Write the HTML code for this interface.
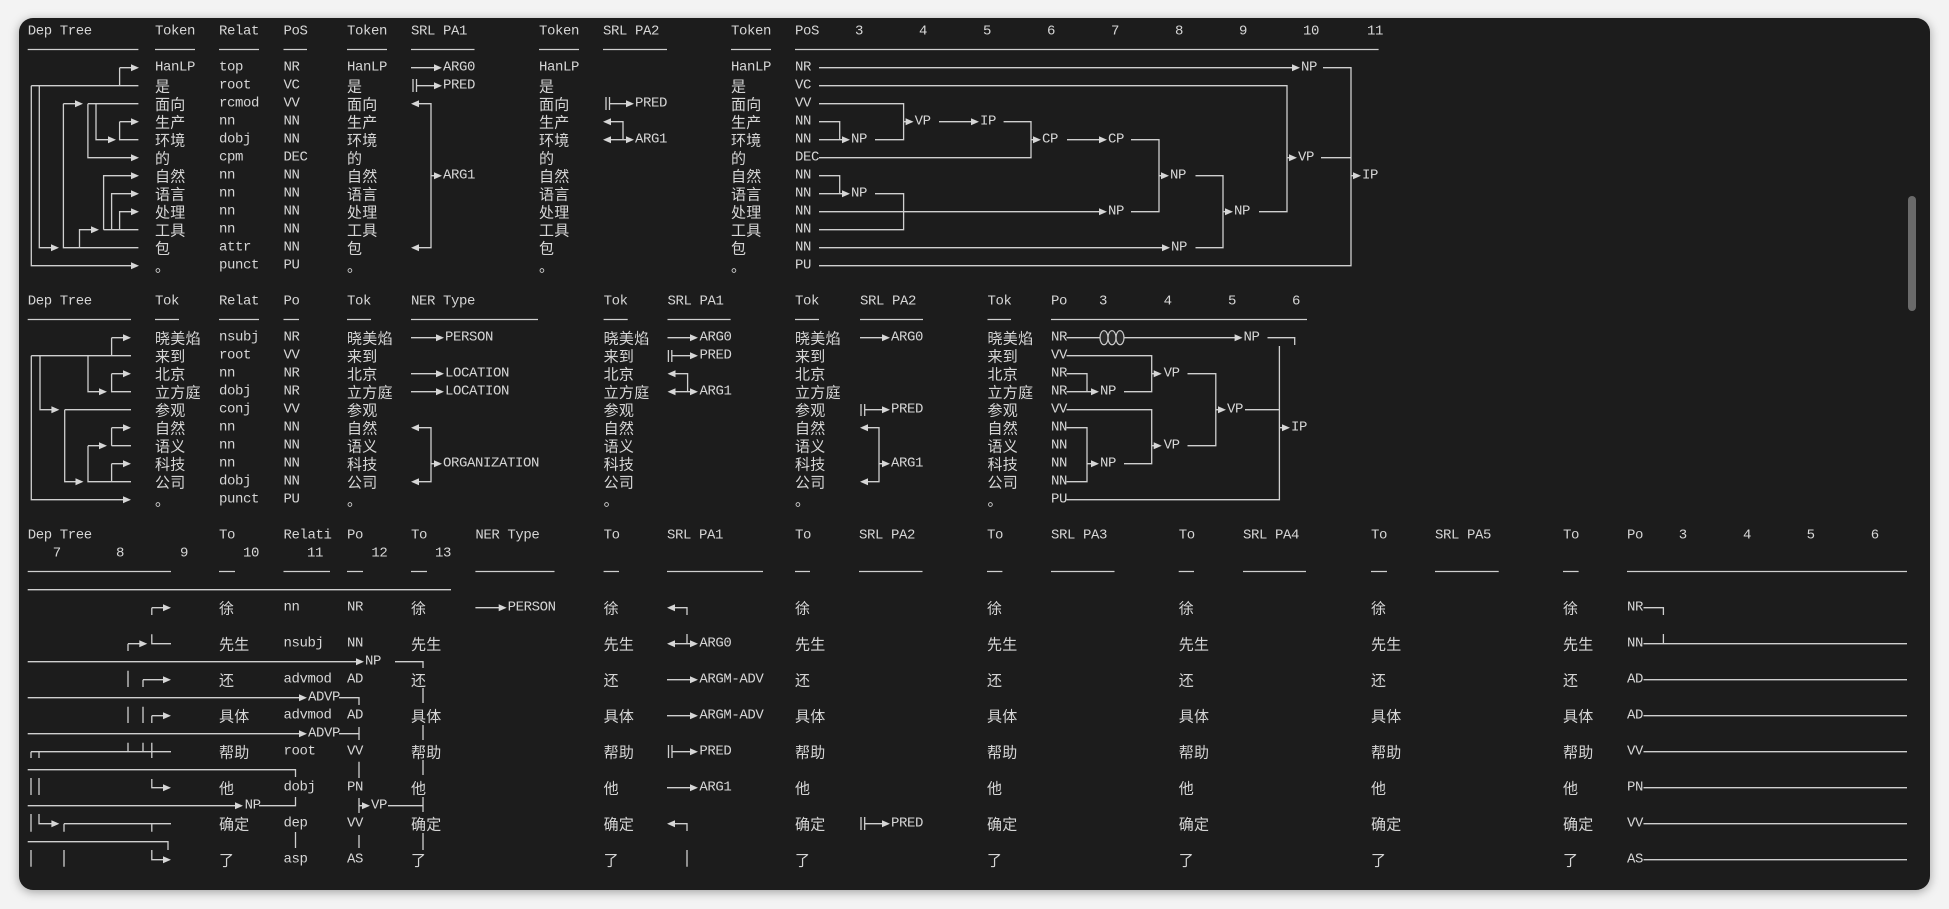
<!DOCTYPE html>
<html><head><meta charset="utf-8"><style>
html,body{margin:0;padding:0;background:#f3f3f3;}
#p{position:absolute;left:19px;top:18px;width:1911px;height:872px;background:#1c1c1c;border-radius:14px;box-shadow:0 2px 10px rgba(0,0,0,.35);}
svg{position:absolute;left:0;top:0;}
text{font-family:"Liberation Mono","Noto Sans CJK SC",monospace;font-size:14px;fill:#d6d6d6;letter-spacing:-0.4px;dominant-baseline:central;}
.c{font-family:"Noto Sans CJK SC","WenQuanYi Zen Hei",sans-serif;font-size:15px;letter-spacing:0.3px;}
.l{fill:none;stroke:#cfcfcf;stroke-width:1.3;}
.a{fill:#d6d6d6;}
</style></head><body>
<div id="p"></div>
<div style="position:absolute;left:1908px;top:196px;width:8px;height:115px;background:#6a6a6a;border-radius:4px;"></div>
<svg width="1949" height="909" viewBox="0 0 1949 909">
<!-- ===== SECTION 1 headers ===== -->
<text y="31.7"><tspan x="27.7">Dep Tree</tspan><tspan x="155">Token</tspan><tspan x="219">Relat</tspan><tspan x="283.5">PoS</tspan><tspan x="347">Token</tspan><tspan x="411">SRL PA1</tspan><tspan x="539">Token</tspan><tspan x="603">SRL PA2</tspan><tspan x="731">Token</tspan><tspan x="795">PoS</tspan><tspan x="855">3</tspan><tspan x="919">4</tspan><tspan x="983">5</tspan><tspan x="1047">6</tspan><tspan x="1111">7</tspan><tspan x="1175">8</tspan><tspan x="1239">9</tspan><tspan x="1303">10</tspan><tspan x="1367">11</tspan></text>
<path class="l" d="M27.7 49.5H138.4M155 49.5H195M219 49.5H259M283.5 49.5H307M347 49.5H387M411 49.5H474.5M539 49.5H579M603 49.5H667M731 49.5H771M795 49.5H1378.6"/>
<text><tspan x="155" y="67.7">HanLP</tspan><tspan class="c" x="155" y="85.7">是</tspan><tspan class="c" x="155" y="103.7">面向</tspan><tspan class="c" x="155" y="121.7">生产</tspan><tspan class="c" x="155" y="139.7">环境</tspan><tspan class="c" x="155" y="157.7">的</tspan><tspan class="c" x="155" y="175.7">自然</tspan><tspan class="c" x="155" y="193.7">语言</tspan><tspan class="c" x="155" y="211.7">处理</tspan><tspan class="c" x="155" y="229.7">工具</tspan><tspan class="c" x="155" y="247.7">包</tspan><tspan class="c" x="155" y="265.7">。</tspan></text>
<text><tspan x="347" y="67.7">HanLP</tspan><tspan class="c" x="347" y="85.7">是</tspan><tspan class="c" x="347" y="103.7">面向</tspan><tspan class="c" x="347" y="121.7">生产</tspan><tspan class="c" x="347" y="139.7">环境</tspan><tspan class="c" x="347" y="157.7">的</tspan><tspan class="c" x="347" y="175.7">自然</tspan><tspan class="c" x="347" y="193.7">语言</tspan><tspan class="c" x="347" y="211.7">处理</tspan><tspan class="c" x="347" y="229.7">工具</tspan><tspan class="c" x="347" y="247.7">包</tspan><tspan class="c" x="347" y="265.7">。</tspan></text>
<text><tspan x="539" y="67.7">HanLP</tspan><tspan class="c" x="539" y="85.7">是</tspan><tspan class="c" x="539" y="103.7">面向</tspan><tspan class="c" x="539" y="121.7">生产</tspan><tspan class="c" x="539" y="139.7">环境</tspan><tspan class="c" x="539" y="157.7">的</tspan><tspan class="c" x="539" y="175.7">自然</tspan><tspan class="c" x="539" y="193.7">语言</tspan><tspan class="c" x="539" y="211.7">处理</tspan><tspan class="c" x="539" y="229.7">工具</tspan><tspan class="c" x="539" y="247.7">包</tspan><tspan class="c" x="539" y="265.7">。</tspan></text>
<text><tspan x="731" y="67.7">HanLP</tspan><tspan class="c" x="731" y="85.7">是</tspan><tspan class="c" x="731" y="103.7">面向</tspan><tspan class="c" x="731" y="121.7">生产</tspan><tspan class="c" x="731" y="139.7">环境</tspan><tspan class="c" x="731" y="157.7">的</tspan><tspan class="c" x="731" y="175.7">自然</tspan><tspan class="c" x="731" y="193.7">语言</tspan><tspan class="c" x="731" y="211.7">处理</tspan><tspan class="c" x="731" y="229.7">工具</tspan><tspan class="c" x="731" y="247.7">包</tspan><tspan class="c" x="731" y="265.7">。</tspan></text>
<text><tspan x="219" y="67.7">top</tspan><tspan x="219" y="85.7">root</tspan><tspan x="219" y="103.7">rcmod</tspan><tspan x="219" y="121.7">nn</tspan><tspan x="219" y="139.7">dobj</tspan><tspan x="219" y="157.7">cpm</tspan><tspan x="219" y="175.7">nn</tspan><tspan x="219" y="193.7">nn</tspan><tspan x="219" y="211.7">nn</tspan><tspan x="219" y="229.7">nn</tspan><tspan x="219" y="247.7">attr</tspan><tspan x="219" y="265.7">punct</tspan></text>
<text><tspan x="283.5" y="67.7">NR</tspan><tspan x="283.5" y="85.7">VC</tspan><tspan x="283.5" y="103.7">VV</tspan><tspan x="283.5" y="121.7">NN</tspan><tspan x="283.5" y="139.7">NN</tspan><tspan x="283.5" y="157.7">DEC</tspan><tspan x="283.5" y="175.7">NN</tspan><tspan x="283.5" y="193.7">NN</tspan><tspan x="283.5" y="211.7">NN</tspan><tspan x="283.5" y="229.7">NN</tspan><tspan x="283.5" y="247.7">NN</tspan><tspan x="283.5" y="265.7">PU</tspan></text>
<text><tspan x="795" y="67.7">NR</tspan><tspan x="795" y="85.7">VC</tspan><tspan x="795" y="103.7">VV</tspan><tspan x="795" y="121.7">NN</tspan><tspan x="795" y="139.7">NN</tspan><tspan x="795" y="157.7">DEC</tspan><tspan x="795" y="175.7">NN</tspan><tspan x="795" y="193.7">NN</tspan><tspan x="795" y="211.7">NN</tspan><tspan x="795" y="229.7">NN</tspan><tspan x="795" y="247.7">NN</tspan><tspan x="795" y="265.7">PU</tspan></text>
<path class="l" d="M119.6 67.7V85.7M119.6 67.7H134M31.3 85.7H138.4M31.3 85.7V265.7H134M39.3 85.7V247.7H54M63.4 103.7V247.7H138.4M63.4 103.7H78M87.9 103.7H138.4M87.9 103.7V157.7H134M96 103.7V139.7H111M119.6 121.7V139.7H138.4M119.6 121.7H134M79.5 247.7V229.7H94M103.6 229.7H138.4M103.6 229.7V175.7H134M111.6 229.7V193.7H134M119.6 229.7V211.7H134"/>
<path class="a" d="M139 67.7l-8-3.5v7zM139 265.7l-8-3.5v7zM59 247.7l-8-3.5v7zM83 103.7l-8-3.5v7zM139 157.7l-8-3.5v7zM116 139.7l-8-3.5v7zM139 121.7l-8-3.5v7zM99 229.7l-8-3.5v7zM139 175.7l-8-3.5v7zM139 193.7l-8-3.5v7zM139 211.7l-8-3.5v7z"/>
<path class="l" d="M411 67.7H437M413 79V92M416.5 79V92M416.5 85.7H437M415 103.7H431V247.7H415M431 175.7H437M606 97V110M609.5 97V110M609.5 103.7H629M607 121.7H623V139.7H629M607 139.7H623"/>
<path class="a" d="M442 67.7l-8-3.5v7zM442 85.7l-8-3.5v7zM411 103.7l8-3.5v7zM411 247.7l8-3.5v7zM442 175.7l-8-3.5v7zM634 103.7l-8-3.5v7zM603 121.7l8-3.5v7zM603 139.7l8-3.5v7zM634 139.7l-8-3.5v7z"/>
<text><tspan x="443" y="67.7">ARG0</tspan><tspan x="443" y="85.7">PRED</tspan><tspan x="443" y="175.7">ARG1</tspan><tspan x="635" y="103.7">PRED</tspan><tspan x="635" y="139.7">ARG1</tspan></text>
<path class="l" d="M819 67.7H1295M1323 67.7H1351V265.7H819M819 85.7H1287V211.7H1259M1287 157.7H1292M1321 157.7H1351M1351 175.7H1356M819 103.7H903.6V139.7H875M903.6 121.7H908M939 121.7H974M1003.6 121.7H1031V157.7H819M1031 139.7H1036M1067 139.7H1102M1131 139.7H1159V211.7H1131M1159 175.7H1164M1195.5 175.7H1223V247.7H1195.5M1223 211.7H1228M819 121.7H839.7V139.7M819 139.7H845M875 139.7H903.6M819 175.7H839.7V193.7M819 193.7H845M875 193.7H903.6V229.7H819M819 211.7H1102M819 247.7H1165"/>
<path class="a" d="M1300 67.7l-8-3.5v7zM1297 157.7l-8-3.5v7zM1361 175.7l-8-3.5v7zM913.6 121.7l-8-3.5v7zM979 121.7l-8-3.5v7zM1041 139.7l-8-3.5v7zM1107 139.7l-8-3.5v7zM1169 175.7l-8-3.5v7zM1233 211.7l-8-3.5v7zM850 139.7l-8-3.5v7zM850 193.7l-8-3.5v7zM1107 211.7l-8-3.5v7zM1170 247.7l-8-3.5v7z"/>
<text><tspan x="1301" y="67.7">NP</tspan><tspan x="1298" y="157.7">VP</tspan><tspan x="1362" y="175.7">IP</tspan><tspan x="914.6" y="121.7">VP</tspan><tspan x="980" y="121.7">IP</tspan><tspan x="1042" y="139.7">CP</tspan><tspan x="1108" y="139.7">CP</tspan><tspan x="1170" y="175.7">NP</tspan><tspan x="1234" y="211.7">NP</tspan><tspan x="851" y="139.7">NP</tspan><tspan x="851" y="193.7">NP</tspan><tspan x="1108" y="211.7">NP</tspan><tspan x="1171" y="247.7">NP</tspan></text>

<!-- ===== SECTION 2 ===== -->
<text y="301.7"><tspan x="27.7">Dep Tree</tspan><tspan x="155">Tok</tspan><tspan x="219">Relat</tspan><tspan x="283.5">Po</tspan><tspan x="347">Tok</tspan><tspan x="411">NER Type</tspan><tspan x="603.6">Tok</tspan><tspan x="667.5">SRL PA1</tspan><tspan x="795">Tok</tspan><tspan x="860">SRL PA2</tspan><tspan x="987.5">Tok</tspan><tspan x="1051">Po</tspan><tspan x="1099">3</tspan><tspan x="1163.6">4</tspan><tspan x="1228">5</tspan><tspan x="1292">6</tspan></text>
<path class="l" d="M27.7 319.5H131M155 319.5H179M219 319.5H259M283.5 319.5H299M347 319.5H371M411 319.5H538M603.6 319.5H627.7M667.5 319.5H730.6M795 319.5H819M860 319.5H923M987.5 319.5H1011M1051 319.5H1307"/>
<text><tspan class="c" x="155" y="337.7">晓美焰</tspan><tspan class="c" x="155" y="355.7">来到</tspan><tspan class="c" x="155" y="373.7">北京</tspan><tspan class="c" x="155" y="391.7">立方庭</tspan><tspan class="c" x="155" y="409.7">参观</tspan><tspan class="c" x="155" y="427.7">自然</tspan><tspan class="c" x="155" y="445.7">语义</tspan><tspan class="c" x="155" y="463.7">科技</tspan><tspan class="c" x="155" y="481.7">公司</tspan><tspan class="c" x="155" y="499.7">。</tspan></text>
<text><tspan class="c" x="347" y="337.7">晓美焰</tspan><tspan class="c" x="347" y="355.7">来到</tspan><tspan class="c" x="347" y="373.7">北京</tspan><tspan class="c" x="347" y="391.7">立方庭</tspan><tspan class="c" x="347" y="409.7">参观</tspan><tspan class="c" x="347" y="427.7">自然</tspan><tspan class="c" x="347" y="445.7">语义</tspan><tspan class="c" x="347" y="463.7">科技</tspan><tspan class="c" x="347" y="481.7">公司</tspan><tspan class="c" x="347" y="499.7">。</tspan></text>
<text><tspan class="c" x="603.6" y="337.7">晓美焰</tspan><tspan class="c" x="603.6" y="355.7">来到</tspan><tspan class="c" x="603.6" y="373.7">北京</tspan><tspan class="c" x="603.6" y="391.7">立方庭</tspan><tspan class="c" x="603.6" y="409.7">参观</tspan><tspan class="c" x="603.6" y="427.7">自然</tspan><tspan class="c" x="603.6" y="445.7">语义</tspan><tspan class="c" x="603.6" y="463.7">科技</tspan><tspan class="c" x="603.6" y="481.7">公司</tspan><tspan class="c" x="603.6" y="499.7">。</tspan></text>
<text><tspan class="c" x="795" y="337.7">晓美焰</tspan><tspan class="c" x="795" y="355.7">来到</tspan><tspan class="c" x="795" y="373.7">北京</tspan><tspan class="c" x="795" y="391.7">立方庭</tspan><tspan class="c" x="795" y="409.7">参观</tspan><tspan class="c" x="795" y="427.7">自然</tspan><tspan class="c" x="795" y="445.7">语义</tspan><tspan class="c" x="795" y="463.7">科技</tspan><tspan class="c" x="795" y="481.7">公司</tspan><tspan class="c" x="795" y="499.7">。</tspan></text>
<text><tspan class="c" x="987.5" y="337.7">晓美焰</tspan><tspan class="c" x="987.5" y="355.7">来到</tspan><tspan class="c" x="987.5" y="373.7">北京</tspan><tspan class="c" x="987.5" y="391.7">立方庭</tspan><tspan class="c" x="987.5" y="409.7">参观</tspan><tspan class="c" x="987.5" y="427.7">自然</tspan><tspan class="c" x="987.5" y="445.7">语义</tspan><tspan class="c" x="987.5" y="463.7">科技</tspan><tspan class="c" x="987.5" y="481.7">公司</tspan><tspan class="c" x="987.5" y="499.7">。</tspan></text>
<text><tspan x="219" y="337.7">nsubj</tspan><tspan x="219" y="355.7">root</tspan><tspan x="219" y="373.7">nn</tspan><tspan x="219" y="391.7">dobj</tspan><tspan x="219" y="409.7">conj</tspan><tspan x="219" y="427.7">nn</tspan><tspan x="219" y="445.7">nn</tspan><tspan x="219" y="463.7">nn</tspan><tspan x="219" y="481.7">dobj</tspan><tspan x="219" y="499.7">punct</tspan></text>
<text><tspan x="283.5" y="337.7">NR</tspan><tspan x="283.5" y="355.7">VV</tspan><tspan x="283.5" y="373.7">NR</tspan><tspan x="283.5" y="391.7">NR</tspan><tspan x="283.5" y="409.7">VV</tspan><tspan x="283.5" y="427.7">NN</tspan><tspan x="283.5" y="445.7">NN</tspan><tspan x="283.5" y="463.7">NN</tspan><tspan x="283.5" y="481.7">NN</tspan><tspan x="283.5" y="499.7">PU</tspan></text>
<text><tspan x="1051" y="337.7">NR</tspan><tspan x="1051" y="355.7">VV</tspan><tspan x="1051" y="373.7">NR</tspan><tspan x="1051" y="391.7">NR</tspan><tspan x="1051" y="409.7">VV</tspan><tspan x="1051" y="427.7">NN</tspan><tspan x="1051" y="445.7">NN</tspan><tspan x="1051" y="463.7">NN</tspan><tspan x="1051" y="481.7">NN</tspan><tspan x="1051" y="499.7">PU</tspan></text>
<path class="l" d="M111.6 337.7V355.7M111.6 337.7H126M31.3 355.7H131M31.3 355.7V499.7H126M40 355.7V409.7H54M88 355.7V391.7H102M111.6 373.7V391.7H131M111.6 373.7H126M64.7 409.7H131M64.7 409.7V481.7H78M111.6 427.7V445.7M111.6 427.7H126M88 445.7V481.7H131M88 445.7H102M111.6 445.7H131M111.6 463.7V481.7M111.6 463.7H126"/>
<path class="a" d="M131 337.7l-8-3.5v7zM131 499.7l-8-3.5v7zM59.4 409.7l-8-3.5v7zM107 391.7l-8-3.5v7zM131 373.7l-8-3.5v7zM83.5 481.7l-8-3.5v7zM131 427.7l-8-3.5v7zM107 445.7l-8-3.5v7zM131 463.7l-8-3.5v7z"/>
<path class="l" d="M411 337.7H439M411 373.7H439M411 391.7H439M415 427.7H431V481.7H415M431 463.7H437M667.5 337.7H693M668.4 350V362M671.8 350V362M671.8 355.7H693M671.5 373.7H687.6V391.7H693M671.5 391.7H687.6M860 337.7H885M861 404V416M864.7 404V416M864.7 409.7H885M864 427.7H879V481.7H864M879 463.7H885"/>
<path class="a" d="M444 337.7l-8-3.5v7zM444 373.7l-8-3.5v7zM444 391.7l-8-3.5v7zM411 427.7l8-3.5v7zM411 481.7l8-3.5v7zM442 463.7l-8-3.5v7zM698 337.7l-8-3.5v7zM698 355.7l-8-3.5v7zM667.5 373.7l8-3.5v7zM667.5 391.7l8-3.5v7zM698 391.7l-8-3.5v7zM890 337.7l-8-3.5v7zM890 409.7l-8-3.5v7zM860 427.7l8-3.5v7zM860 481.7l8-3.5v7zM890 463.7l-8-3.5v7z"/>
<text><tspan x="445" y="337.7">PERSON</tspan><tspan x="445" y="373.7">LOCATION</tspan><tspan x="445" y="391.7">LOCATION</tspan><tspan x="443" y="463.7">ORGANIZATION</tspan><tspan x="699.5" y="337.7">ARG0</tspan><tspan x="699.5" y="355.7">PRED</tspan><tspan x="699.5" y="391.7">ARG1</tspan><tspan x="891" y="337.7">ARG0</tspan><tspan x="891" y="409.7">PRED</tspan><tspan x="891" y="463.7">ARG1</tspan></text>
<path class="l" d="M1066.5 337.7H1238M1267.5 337.7H1294.7V345M1279.4 346V499.7H1066.5M1066.5 355.7H1151.7V391.7H1124M1151.7 373.7H1157M1187.5 373.7H1215.8V445.7H1187.5M1215.8 409.7H1221M1245 409.7H1279.4M1066.5 373.7H1087V391.7M1066.5 391.7H1094M1124 391.7H1151.7M1066.5 409.7H1151.7V463.7H1124M1151.7 445.7H1157M1066.5 427.7H1087V481.7H1066.5M1087 463.7H1094M1124 463.7H1151.7M1279.4 427.7H1285"/>
<path class="a" d="M1242.6 337.7l-8-3.5v7zM1161.7 373.7l-8-3.5v7zM1226 409.7l-8-3.5v7zM1099 391.7l-8-3.5v7zM1161.7 445.7l-8-3.5v7zM1099 463.7l-8-3.5v7zM1290 427.7l-8-3.5v7z"/>
<g fill="#2a2a2a" stroke="#cfcfcf" stroke-width="1.2"><ellipse cx="1104" cy="337.7" rx="4" ry="7"/><ellipse cx="1112" cy="337.7" rx="4" ry="7"/><ellipse cx="1120" cy="337.7" rx="4" ry="7"/></g>
<text><tspan x="1243.5" y="337.7">NP</tspan><tspan x="1163.6" y="373.7">VP</tspan><tspan x="1227" y="409.7">VP</tspan><tspan x="1100" y="391.7">NP</tspan><tspan x="1163.6" y="445.7">VP</tspan><tspan x="1100" y="463.7">NP</tspan><tspan x="1291" y="427.7">IP</tspan></text>

<!-- ===== SECTION 3 ===== -->
<text y="535.7"><tspan x="27.7">Dep Tree</tspan><tspan x="219">To</tspan><tspan x="283.5">Relati</tspan><tspan x="347">Po</tspan><tspan x="411">To</tspan><tspan x="475.4">NER Type</tspan><tspan x="603.6">To</tspan><tspan x="667">SRL PA1</tspan><tspan x="795">To</tspan><tspan x="859">SRL PA2</tspan><tspan x="987">To</tspan><tspan x="1051">SRL PA3</tspan><tspan x="1178.7">To</tspan><tspan x="1243">SRL PA4</tspan><tspan x="1371">To</tspan><tspan x="1435">SRL PA5</tspan><tspan x="1563">To</tspan><tspan x="1627">Po</tspan><tspan x="1678.7">3</tspan><tspan x="1743">4</tspan><tspan x="1806.6">5</tspan><tspan x="1870.8">6</tspan></text>
<text y="553.7"><tspan x="52.7">7</tspan><tspan x="116">8</tspan><tspan x="180">9</tspan><tspan x="243">10</tspan><tspan x="307">11</tspan><tspan x="371.4">12</tspan><tspan x="435">13</tspan></text>
<path class="l" d="M27.7 571.5H171M219 571.5H235M283.5 571.5H330M347 571.5H363M411 571.5H427M475.4 571.5H554.5M603.6 571.5H619M667 571.5H763M795 571.5H810M859 571.5H922.5M987 571.5H1002.4M1051 571.5H1114.5M1178.7 571.5H1194M1243 571.5H1306M1371 571.5H1387M1435 571.5H1498.7M1563 571.5H1578.6M1627 571.5H1907M27.7 589.7H451"/>
<text><tspan class="c" x="219" y="607.7">徐</tspan><tspan class="c" x="219" y="643.7">先生</tspan><tspan class="c" x="219" y="679.7">还</tspan><tspan class="c" x="219" y="715.7">具体</tspan><tspan class="c" x="219" y="751.7">帮助</tspan><tspan class="c" x="219" y="787.7">他</tspan><tspan class="c" x="219" y="823.7">确定</tspan><tspan class="c" x="219" y="859.7">了</tspan></text>
<text><tspan class="c" x="411" y="607.7">徐</tspan><tspan class="c" x="411" y="643.7">先生</tspan><tspan class="c" x="411" y="679.7">还</tspan><tspan class="c" x="411" y="715.7">具体</tspan><tspan class="c" x="411" y="751.7">帮助</tspan><tspan class="c" x="411" y="787.7">他</tspan><tspan class="c" x="411" y="823.7">确定</tspan><tspan class="c" x="411" y="859.7">了</tspan></text>
<text><tspan class="c" x="603.6" y="607.7">徐</tspan><tspan class="c" x="603.6" y="643.7">先生</tspan><tspan class="c" x="603.6" y="679.7">还</tspan><tspan class="c" x="603.6" y="715.7">具体</tspan><tspan class="c" x="603.6" y="751.7">帮助</tspan><tspan class="c" x="603.6" y="787.7">他</tspan><tspan class="c" x="603.6" y="823.7">确定</tspan><tspan class="c" x="603.6" y="859.7">了</tspan></text>
<text><tspan class="c" x="795" y="607.7">徐</tspan><tspan class="c" x="795" y="643.7">先生</tspan><tspan class="c" x="795" y="679.7">还</tspan><tspan class="c" x="795" y="715.7">具体</tspan><tspan class="c" x="795" y="751.7">帮助</tspan><tspan class="c" x="795" y="787.7">他</tspan><tspan class="c" x="795" y="823.7">确定</tspan><tspan class="c" x="795" y="859.7">了</tspan></text>
<text><tspan class="c" x="987" y="607.7">徐</tspan><tspan class="c" x="987" y="643.7">先生</tspan><tspan class="c" x="987" y="679.7">还</tspan><tspan class="c" x="987" y="715.7">具体</tspan><tspan class="c" x="987" y="751.7">帮助</tspan><tspan class="c" x="987" y="787.7">他</tspan><tspan class="c" x="987" y="823.7">确定</tspan><tspan class="c" x="987" y="859.7">了</tspan></text>
<text><tspan class="c" x="1178.7" y="607.7">徐</tspan><tspan class="c" x="1178.7" y="643.7">先生</tspan><tspan class="c" x="1178.7" y="679.7">还</tspan><tspan class="c" x="1178.7" y="715.7">具体</tspan><tspan class="c" x="1178.7" y="751.7">帮助</tspan><tspan class="c" x="1178.7" y="787.7">他</tspan><tspan class="c" x="1178.7" y="823.7">确定</tspan><tspan class="c" x="1178.7" y="859.7">了</tspan></text>
<text><tspan class="c" x="1371" y="607.7">徐</tspan><tspan class="c" x="1371" y="643.7">先生</tspan><tspan class="c" x="1371" y="679.7">还</tspan><tspan class="c" x="1371" y="715.7">具体</tspan><tspan class="c" x="1371" y="751.7">帮助</tspan><tspan class="c" x="1371" y="787.7">他</tspan><tspan class="c" x="1371" y="823.7">确定</tspan><tspan class="c" x="1371" y="859.7">了</tspan></text>
<text><tspan class="c" x="1563" y="607.7">徐</tspan><tspan class="c" x="1563" y="643.7">先生</tspan><tspan class="c" x="1563" y="679.7">还</tspan><tspan class="c" x="1563" y="715.7">具体</tspan><tspan class="c" x="1563" y="751.7">帮助</tspan><tspan class="c" x="1563" y="787.7">他</tspan><tspan class="c" x="1563" y="823.7">确定</tspan><tspan class="c" x="1563" y="859.7">了</tspan></text>
<text><tspan x="283.5" y="607.7">nn</tspan><tspan x="283.5" y="643.7">nsubj</tspan><tspan x="283.5" y="679.7">advmod</tspan><tspan x="283.5" y="715.7">advmod</tspan><tspan x="283.5" y="751.7">root</tspan><tspan x="283.5" y="787.7">dobj</tspan><tspan x="283.5" y="823.7">dep</tspan><tspan x="283.5" y="859.7">asp</tspan></text>
<text><tspan x="347" y="607.7">NR</tspan><tspan x="347" y="643.7">NN</tspan><tspan x="347" y="679.7">AD</tspan><tspan x="347" y="715.7">AD</tspan><tspan x="347" y="751.7">VV</tspan><tspan x="347" y="787.7">PN</tspan><tspan x="347" y="823.7">VV</tspan><tspan x="347" y="859.7">AS</tspan></text>
<text><tspan x="1627" y="607.7">NR</tspan><tspan x="1627" y="643.7">NN</tspan><tspan x="1627" y="679.7">AD</tspan><tspan x="1627" y="715.7">AD</tspan><tspan x="1627" y="751.7">VV</tspan><tspan x="1627" y="787.7">PN</tspan><tspan x="1627" y="823.7">VV</tspan><tspan x="1627" y="859.7">AS</tspan></text>
<path class="l" d="M151.8 607.7V615M151.8 607.7H166M128 643.7V651M128 643.7H142M151.8 634.3V643.7H171M27.7 661.7H359M395 661.7H423V668M128 670.7V687M143 679.7V687M143 679.7H166M27.7 697.7H302M339 697.7H359V705M128 706.7V723M143 706.7V723M151.8 715.7V723M151.8 715.7H166M27.7 733.7H302M339 733.7H359M359 727V740M31 751.7H171M31 751.7V758M39 751.7V758M128 742.7V751.7M143 742.7V751.7M151.8 742.7V758M27.7 769.7H295.5V777M31 778V795M39 778V795M151.8 779V787.7H166M27.7 805.7H238M259 805.7H295.5V797M359 798V813M359 805.7H365M388 805.7H423M31 814V831.7M39 814V823.7H54M64 823.7H171M64 823.7V831.7M151.8 823.7V831.7M27.7 841.7H168V850M31 850V866.7M64 850V866.7M151.8 850V859.7H166M295.5 832V848M359 761.7V778M359 835V848M423 688V703M423 725V740M423 760V775M423 797V812M423 833V850"/>
<path class="a" d="M171 607.7l-8-3.5v7zM147.3 643.7l-8-3.5v7zM364 661.7l-8-3.5v7zM171 679.7l-8-3.5v7zM307 697.7l-8-3.5v7zM171 715.7l-8-3.5v7zM307 733.7l-8-3.5v7zM171 787.7l-8-3.5v7zM243 805.7l-8-3.5v7zM370 805.7l-8-3.5v7zM59.4 823.7l-8-3.5v7zM171 859.7l-8-3.5v7z"/>
<text><tspan x="365" y="661.7">NP</tspan><tspan x="308" y="697.7">ADVP</tspan><tspan x="308" y="733.7">ADVP</tspan><tspan x="244.6" y="805.7">NP</tspan><tspan x="371" y="805.7">VP</tspan></text>
<path class="l" d="M475.4 607.7H502M671 607.7H687V615M671 643.7H693M687 634V643.7M667 679.7H693M667 715.7H693M668.5 745V758M672 745V758M672 751.7H693M667 787.7H693M671 823.7H687V831M687 850V866.7M861 817V830M864.7 817V830M864.7 823.7H885"/>
<path class="a" d="M506.7 607.7l-8-3.5v7zM667 607.7l8-3.5v7zM667 643.7l8-3.5v7zM698 643.7l-8-3.5v7zM698 679.7l-8-3.5v7zM698 715.7l-8-3.5v7zM698 751.7l-8-3.5v7zM698 787.7l-8-3.5v7zM667 823.7l8-3.5v7zM890 823.7l-8-3.5v7z"/>
<text><tspan x="507.6" y="607.7">PERSON</tspan><tspan x="699.4" y="643.7">ARG0</tspan><tspan x="699.4" y="679.7">ARGM-ADV</tspan><tspan x="699.4" y="715.7">ARGM-ADV</tspan><tspan x="699.4" y="751.7">PRED</tspan><tspan x="699.4" y="787.7">ARG1</tspan><tspan x="891" y="823.7">PRED</tspan></text>
<path class="l" d="M1643.5 607.7H1663.4V615M1663.4 634V643.7M1643.5 643.7H1907M1643.5 679.7H1907M1643.5 715.7H1907M1643.5 751.7H1907M1643.5 787.7H1907M1643.5 823.7H1907M1643.5 859.7H1907"/>
</svg>
</body></html>
